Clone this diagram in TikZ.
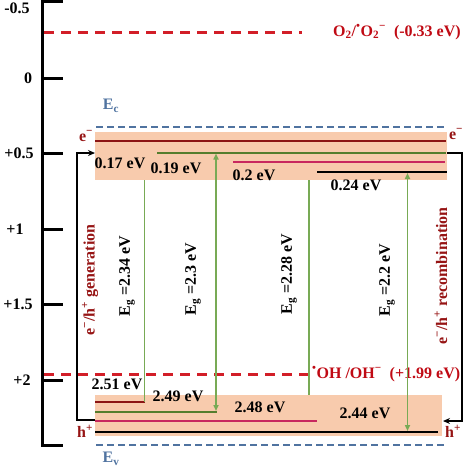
\documentclass[tikz,border=0pt]{standalone}
\usepackage{fontspec}
\setmainfont{Liberation Serif}
\usetikzlibrary{arrows.meta}
\definecolor{dashred}{RGB}{210,30,40}
\definecolor{labelred}{RGB}{192,10,20}
\definecolor{maroon}{RGB}{150,20,20}
\definecolor{dashblue}{RGB}{80,115,160}
\definecolor{peach}{RGB}{248,203,173}
\definecolor{levred}{RGB}{140,20,20}
\definecolor{levgreen}{RGB}{85,125,45}
\definecolor{levpink}{RGB}{200,40,95}
\definecolor{arrgreen}{RGB}{120,170,85}
\begin{document}
\begin{tikzpicture}[x=1pt,y=-1pt,
  lbl/.style={font=\bfseries\fontsize{16}{18}\selectfont, inner sep=0pt},
  redlbl/.style={lbl, text=labelred},
  marlbl/.style={lbl, text=maroon},
  bluelbl/.style={lbl, text=dashblue},
  reddash/.style={draw=dashred, line width=3pt, dash pattern=on 10pt off 7pt},
  bluedash/.style={draw=dashblue, line width=2.5pt, dash pattern=on 7pt off 4pt},
  level/.style={line width=2pt},
  garrow/.style={draw=arrgreen, line width=1.5pt},
  btip/.style={-{Stealth[length=7pt,width=6pt]}, line width=1.2pt},
  band/.style={fill=peach, draw=none}
]
\useasboundingbox (0,0) rectangle (474,467);
% axis
\draw[line width=3pt] (42,-1) -- (42,446.5);
\foreach \yy in {1,78,153,229,304,380,445} \draw[line width=3pt] (42,\yy) -- (63,\yy);
\node[lbl] (t1) at (17,8) {-0.5};
\node[lbl] (t2) at (28,78) {0};
\node[lbl] (t3) at (19,153) {+0.5};
\node[lbl] (t4) at (15,229) {+1};
\node[lbl] (t5) at (18,304) {+1.5};
\node[lbl] (t6) at (22,380) {+2};
% bands
\fill[band] (95,132) rectangle (447,180);
\fill[band] (95,395) rectangle (442,436);
% redox lines
\coordinate (o2a) at (44,32); \coordinate (o2b) at (302,32);
\draw[reddash] (o2a) -- (o2b);
\node[redlbl, anchor=west] (o2) at (333,32) {O\textsubscript{2}/\textsuperscript{•}O\textsubscript{2}\textsuperscript{−}\ \ (-0.33 eV)};
\coordinate (oha) at (44,374); \coordinate (ohb) at (310,374);
\draw[reddash] (oha) -- (ohb);
\node[redlbl, anchor=west] (oh) at (312,374) {\textsuperscript{•}OH /OH\textsuperscript{−}\ \ (+1.99 eV)};
% Ec Ev
\coordinate (eca) at (96,127); \coordinate (ecb) at (447,127);
\draw[bluedash] (eca) -- (ecb);
\node[bluelbl] (ec) at (111,106) {E\textsubscript{c}};
\coordinate (eva) at (96,445); \coordinate (evb) at (447,445);
\draw[bluedash] (eva) -- (evb);
\node[bluelbl] (ev) at (111,459) {E\textsubscript{v}};
% upper levels
\coordinate (u1a) at (95,141); \coordinate (u1b) at (446,141);
\coordinate (u2a) at (157,152.5); \coordinate (u2b) at (446,152.5);
\coordinate (u3a) at (233,162); \coordinate (u3b) at (445,162);
\coordinate (u4a) at (317,172); \coordinate (u4b) at (447,172);
\draw[level, levred] (u1a) -- (u1b);
\draw[level, levgreen] (u2a) -- (u2b);
\draw[level, levpink] (u3a) -- (u3b);
\draw[level, black] (u4a) -- (u4b);
\node[lbl] (l017) at (120,163) {0.17 eV};
\node[lbl] (l019) at (176,168) {0.19 eV};
\node[lbl] (l020) at (254,175) {0.2 eV};
\node[lbl] (l024) at (356,185) {0.24 eV};
% lower levels
\coordinate (d1a) at (95,402); \coordinate (d1b) at (145,402);
\coordinate (d2a) at (95,412); \coordinate (d2b) at (217,412);
\coordinate (d3a) at (95,421); \coordinate (d3b) at (317,421);
\coordinate (d4a) at (95,432); \coordinate (d4b) at (438,432);
\draw[level, levred] (d1a) -- (d1b);
\draw[level, levgreen] (d2a) -- (d2b);
\draw[level, levpink] (d3a) -- (d3b);
\draw[level, black] (d4a) -- (d4b);
\node[lbl] (l251) at (117,384) {2.51 eV};
\node[lbl] (l249) at (178,396) {2.49 eV};
\node[lbl] (l248) at (260,407) {2.48 eV};
\node[lbl] (l244) at (365,413) {2.44 eV};
% green transitions
\coordinate (g1t) at (144.5,180); \coordinate (g1b) at (144.5,402);
\draw[garrow] (g1t) -- (g1b);
\coordinate (g2t) at (216,153.5); \coordinate (g2b) at (216,411);
\draw[garrow, {Triangle[length=6pt,width=5pt]}-{Triangle[length=6pt,width=5pt]}] (g2t) -- (g2b);
\coordinate (g3t) at (309,180); \coordinate (g3b) at (309,395);
\draw[garrow] (g3t) -- (g3b);
\coordinate (g4t) at (407.5,173); \coordinate (g4b) at (407.5,431);
\draw[garrow, {Triangle[length=6pt,width=5pt]}-{Triangle[length=6pt,width=5pt]}] (g4t) -- (g4b);
\node[lbl, rotate=90] (eg1) at (127,276) {E\textsubscript{g} =2.34 eV};
\node[lbl, rotate=90] (eg2) at (193,279) {E\textsubscript{g} =2.3 eV};
\node[lbl, rotate=90] (eg3) at (289,274) {E\textsubscript{g} =2.28 eV};
\node[lbl, rotate=90] (eg4) at (387,280) {E\textsubscript{g} =2.2 eV};
% generation / recombination
\coordinate (gen0) at (95,420); \coordinate (gen1) at (77,420);
\coordinate (gen2) at (77,153); \coordinate (gen3) at (95,153);
\draw[btip] (gen0) -- (gen1) -- (gen2) -- (gen3);
\coordinate (rec0) at (447,153); \coordinate (rec1) at (462,153);
\coordinate (rec2) at (462,421); \coordinate (rec3) at (443,421);
\draw[btip] (rec0) -- (rec1) -- (rec2) -- (rec3);
\node[marlbl, rotate=90] (gen) at (90,280) {e\textsuperscript{−}/h\textsuperscript{+} generation};
\node[marlbl, rotate=90] (rec) at (441,276) {e\textsuperscript{−}/h\textsuperscript{+} recombination};
\node[marlbl] (em1) at (86,136) {e\textsuperscript{−}};
\node[marlbl] (em2) at (456,134) {e\textsuperscript{−}};
\node[marlbl] (hp1) at (85,431) {h\textsuperscript{+}};
\node[marlbl] (hp2) at (453,431) {h\textsuperscript{+}};
\end{tikzpicture}
\end{document}
